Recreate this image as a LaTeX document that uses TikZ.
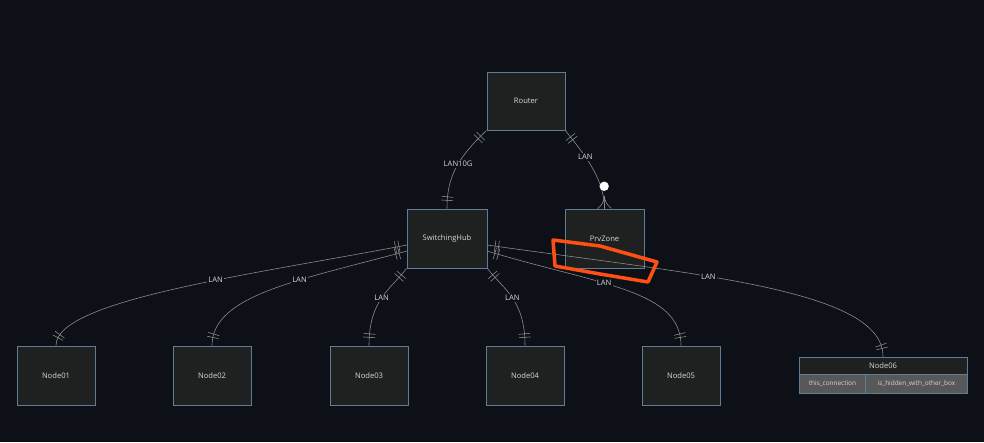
\documentclass[tikz,border=0pt]{standalone}
\usepackage{fontspec}
\setmainfont{Open Sans}
\usetikzlibrary{decorations.markings}
\definecolor{bg}{RGB}{13,16,23}
\definecolor{boxfill}{RGB}{31,32,32}
\definecolor{boxline}{RGB}{95,125,150}
\definecolor{edge}{RGB}{140,140,140}
\definecolor{txt}{RGB}{215,215,215}
\definecolor{rowfill}{RGB}{88,88,88}
\definecolor{annot}{RGB}{255,80,20}
\begin{document}
\begin{tikzpicture}[x=0.03cm,y=-0.03cm,
  ent/.style={draw=boxline,fill=boxfill,line width=0.8pt,text=txt,font=\fontsize{6.5}{7}\selectfont,inner sep=0pt},
  lbl/.style={fill=bg,text=txt,font=\fontsize{6.5}{7}\selectfont,inner sep=1pt},
  rel/.style={draw=edge,line width=0.5pt},
  bars/.style={postaction={decorate,decoration={markings,
     mark=at position 7pt with {\draw[edge,line width=0.5pt] (0,-5pt)--(0,5pt);},
     mark=at position 10pt with {\draw[edge,line width=0.5pt] (0,-5pt)--(0,5pt);},
     mark=at position -7pt with {\draw[edge,line width=0.5pt] (0,-5pt)--(0,5pt);},
     mark=at position -10pt with {\draw[edge,line width=0.5pt] (0,-5pt)--(0,5pt);}}}},
  crow/.style={postaction={decorate,decoration={markings,
     mark=at position 7pt with {\draw[edge,line width=0.5pt] (0,-5pt)--(0,5pt);},
     mark=at position 10pt with {\draw[edge,line width=0.5pt] (0,-5pt)--(0,5pt);},
     mark=at position 1 with {\draw[edge,line width=0.5pt] (-11pt,0) to[bend left=25] (0,-6pt) (-11pt,0)--(0,0) (-11pt,0) to[bend right=25] (0,6pt);
       \fill[white] (-19pt,0) circle (4pt);}}}}]
\fill[bg] (0,0) rectangle (984,442);
\useasboundingbox (0,0) rectangle (984,442);
\node[ent,minimum width=78*0.03cm,minimum height=58*0.03cm] (router) at (526,101) {Router};
\node[ent,minimum width=80*0.03cm,minimum height=59*0.03cm] (hub) at (447,238.5) {SwitchingHub};
\node[ent,minimum width=79*0.03cm,minimum height=59*0.03cm] (prv) at (604.5,238.5) {PrvZone};
\foreach \n/\x in {01/56,02/212,03/369,04/525,05/681}
  \node[ent,minimum width=78*0.03cm,minimum height=59*0.03cm] (n\n) at (\x,375.5) {Node\n};
\node[ent,minimum width=168*0.03cm,minimum height=17*0.03cm] (n06) at (883,365.5) {Node06};
\node[ent,fill=rowfill,anchor=north west,minimum width=66*0.03cm,minimum height=19*0.03cm,font=\fontsize{5.5}{6}\selectfont] (c1) at (799,374) {this\_connection};
\node[ent,fill=rowfill,anchor=north west,minimum width=102*0.03cm,minimum height=19*0.03cm,font=\fontsize{5.5}{6}\selectfont] (c2) at (865,374) {is\_hidden\_with\_other\_box};
% edges
\draw[rel,bars] (router.south west) .. controls (455,160) and (447,180) .. (hub.north) node[lbl,pos=0.42] {LAN10G};
\draw[rel,crow] (router.south east) .. controls (580,150) and (604,175) .. (prv.north) node[lbl,pos=0.4] {LAN};
\coordinate (h1) at (407,245); \coordinate (h2) at (407,251);
\coordinate (h5) at (487,251); \coordinate (h6) at (487,245);
\draw[rel,bars] (h1) .. controls (250,275) and (56,300) .. (n01.north) node[lbl,pos=0.4] {LAN};
\draw[rel,bars] (h2) .. controls (300,280) and (212,295) .. (n02.north) node[lbl,pos=0.37] {LAN};
\draw[rel,bars] (hub.south west) .. controls (390,290) and (369,300) .. (n03.north) node[lbl,pos=0.5] {LAN};
\draw[rel,bars] (hub.south east) .. controls (504,290) and (525,300) .. (n04.north) node[lbl,pos=0.5] {LAN};
\draw[rel,bars] (h5) .. controls (600,285) and (681,290) .. (n05.north) node[lbl,pos=0.4] {LAN};
\draw[rel,bars] (h6) .. controls (700,275) and (883,290) .. (n06.north) node[lbl,pos=0.38] {LAN};
% annotation
\draw[annot,line width=3pt,line join=round,line cap=round] (553,240) -- (600,246) -- (657,262) -- (648,282) -- (600,274) -- (555,266) -- cycle;
\end{tikzpicture}
\end{document}
